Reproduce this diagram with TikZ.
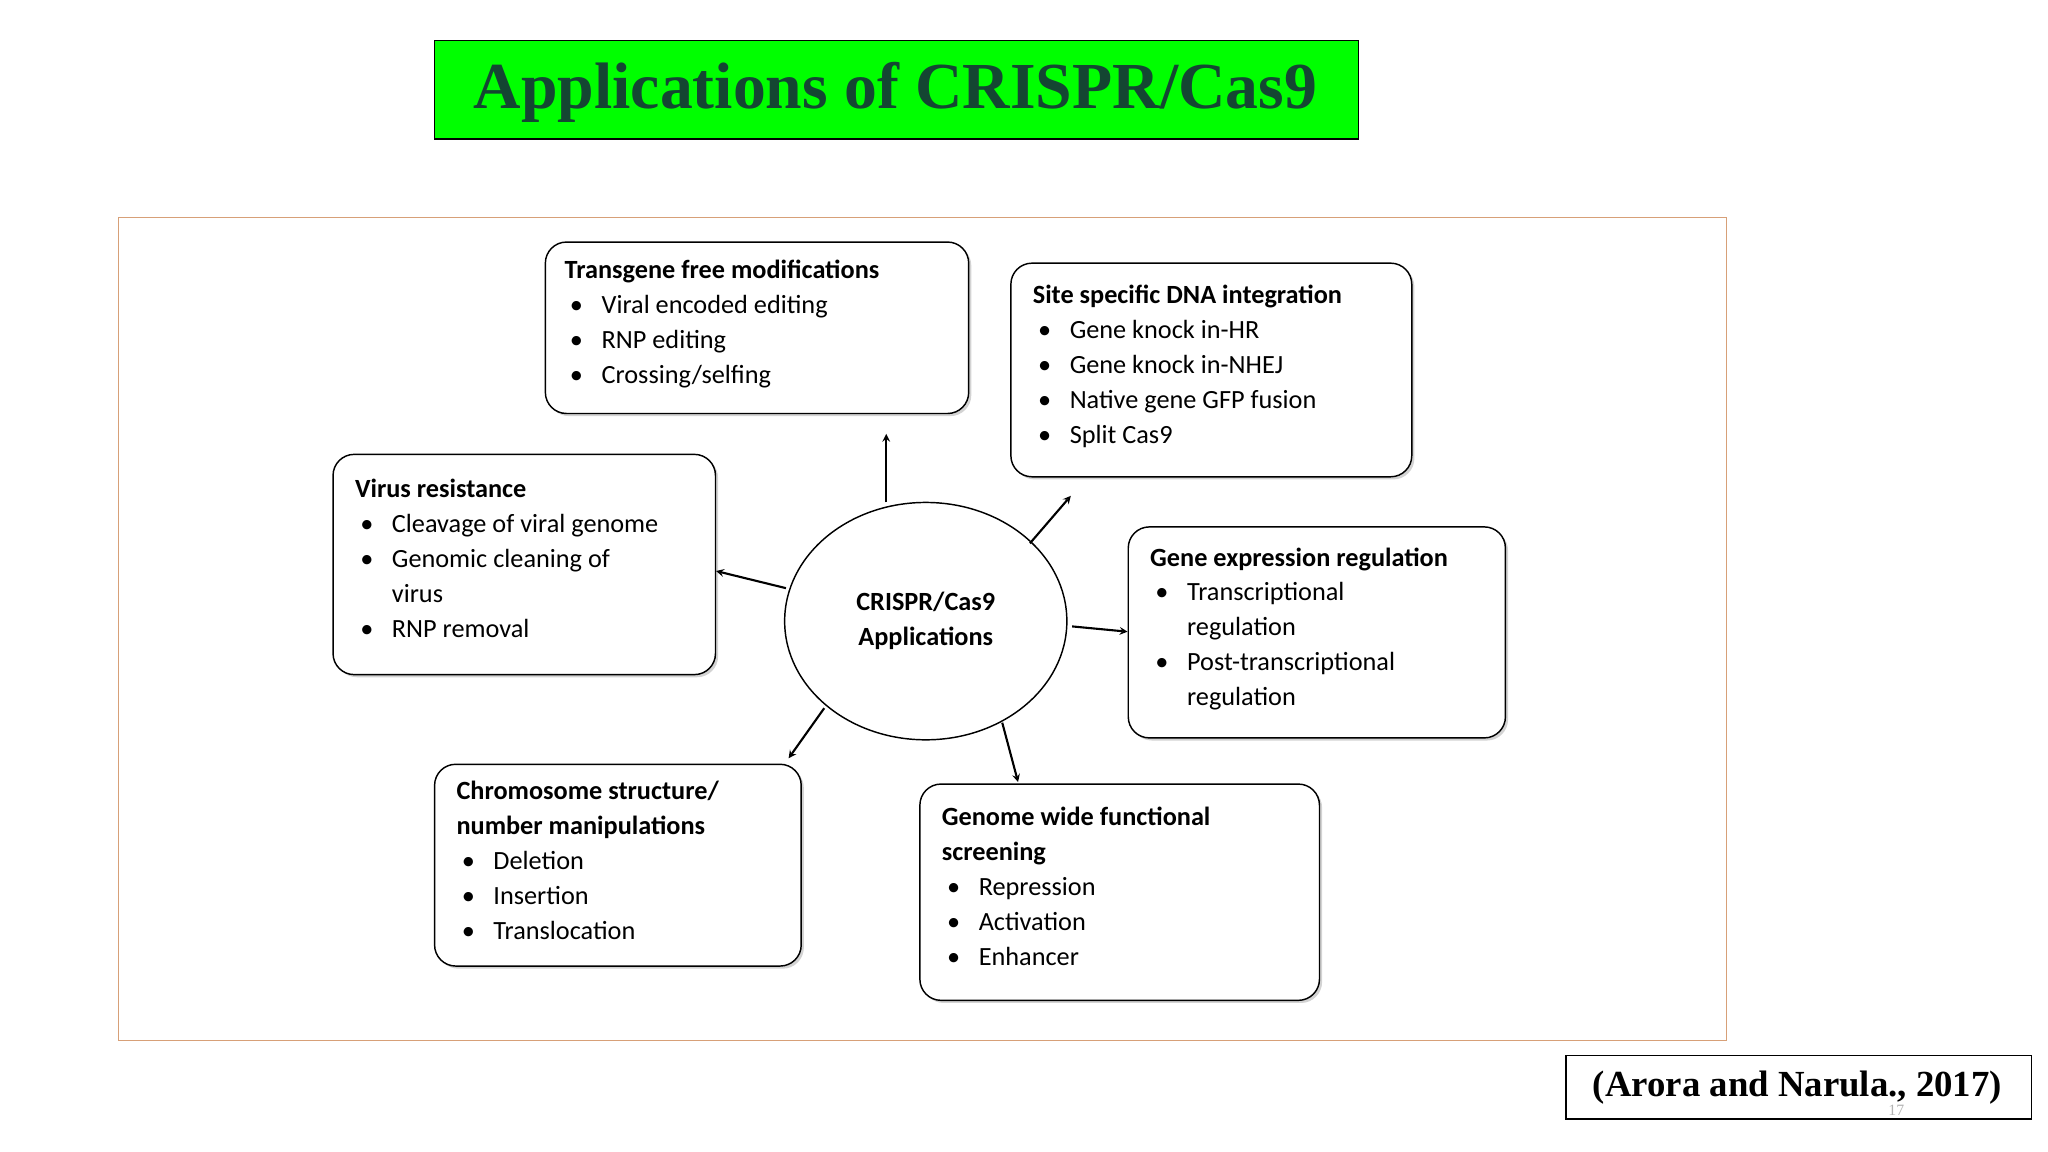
\documentclass[tikz,border=0pt]{standalone}
\usepackage{fontspec}
\setmainfont{Liberation Serif}
\newfontfamily\calfont{Carlito}
\usetikzlibrary{shadows,shapes.geometric}
\newcommand{\bl}{\\\hspace*{4bp}\makebox[24bp][l]{\textbullet}}
\newcommand{\ind}{\\\hspace*{28bp}}
\begin{document}
\begin{tikzpicture}[x=1bp,y=-1bp,
 box/.style={draw,line width=1.1bp,rounded corners=16bp,anchor=north west,inner sep=0,fill=white,drop shadow={shadow xshift=2bp,shadow yshift=-2bp,opacity=.35}},
 txt/.style={anchor=north west,inner sep=0,align=left,font=\calfont\fontsize{20}{26.6}\selectfont},
 arr/.style={-stealth,line width=1.6bp}]
\useasboundingbox (0,0) rectangle (1553,873);
\node[draw,fill=green,line width=0.8bp,minimum width=701bp,minimum height=75bp,anchor=north west,inner sep=0] (title) at (329,30) {};
\node[font=\bfseries\fontsize{50}{50}\selectfont,text={rgb,255:red,20;green,70;blue,50}] at (679,70) {Applications of CRISPR/Cas9};
\draw[draw={rgb,255:red,215;green,160;blue,120},line width=1bp] (90,165) rectangle (1309,789);
% boxes
\node[box,minimum width=321bp,minimum height=130bp] (tg) at (413,183) {};
\node[txt] at (428,197) {\textbf{Transgene free modifications}\bl Viral encoded editing\bl RNP editing\bl Crossing/selfing};
\node[box,minimum width=304bp,minimum height=162bp] (ss) at (766,199) {};
\node[txt] at (783,216) {\textbf{Site specific DNA integration}\bl Gene knock in-HR\bl Gene knock in-NHEJ\bl Native gene GFP fusion\bl Split Cas9};
\node[box,minimum width=290bp,minimum height=167bp] (vr) at (252,344) {};
\node[txt] at (269,363) {\textbf{Virus resistance}\bl Cleavage of viral genome\bl Genomic cleaning of\ind virus\bl RNP removal};
\node[box,minimum width=286bp,minimum height=160bp] (ge) at (855,399) {};
\node[txt] at (872,415) {\textbf{Gene expression regulation}\bl Transcriptional\ind regulation\bl Post-transcriptional\ind regulation};
\node[box,minimum width=278bp,minimum height=153bp] (cs) at (329,579) {};
\node[txt] at (346,592) {\textbf{Chromosome structure/}\\\textbf{number manipulations}\bl Deletion\bl Insertion\bl Translocation};
\node[box,minimum width=303bp,minimum height=164bp] (gw) at (697,594) {};
\node[txt] at (714,612) {\textbf{Genome wide functional}\\\textbf{screening}\bl Repression\bl Activation\bl Enhancer};
\node[draw,line width=1.1bp,ellipse,minimum width=214bp,minimum height=180bp,fill=white,align=center,font=\calfont\bfseries\fontsize{20}{26.6}\selectfont] (e) at (702,471) {CRISPR/Cas9\\Applications};
% arrows
\coordinate (a1) at (672,381); \coordinate (b1) at (672,329);
\coordinate (a2) at (781,412); \coordinate (b2) at (812,376);
\coordinate (a3) at (813,475); \coordinate (b3) at (855,479);
\coordinate (a4) at (760,548); \coordinate (b4) at (772,593);
\coordinate (a5) at (625,537); \coordinate (b5) at (598,575);
\coordinate (a6) at (596,446); \coordinate (b6) at (543,433);
\foreach \i in {1,...,6}{\draw[arr] (a\i) -- (b\i);}
\node[draw,line width=1bp,minimum width=353bp,minimum height=48bp,anchor=north west,inner sep=0] (cit) at (1187,800) {};
\node[font=\bfseries\fontsize{28}{28}\selectfont] at (1363,825) {(Arora and Narula., 2017)};
\node[text=gray!60,font=\fontsize{12}{12}\selectfont] at (1438,842) {17};
\end{tikzpicture}
\end{document}
